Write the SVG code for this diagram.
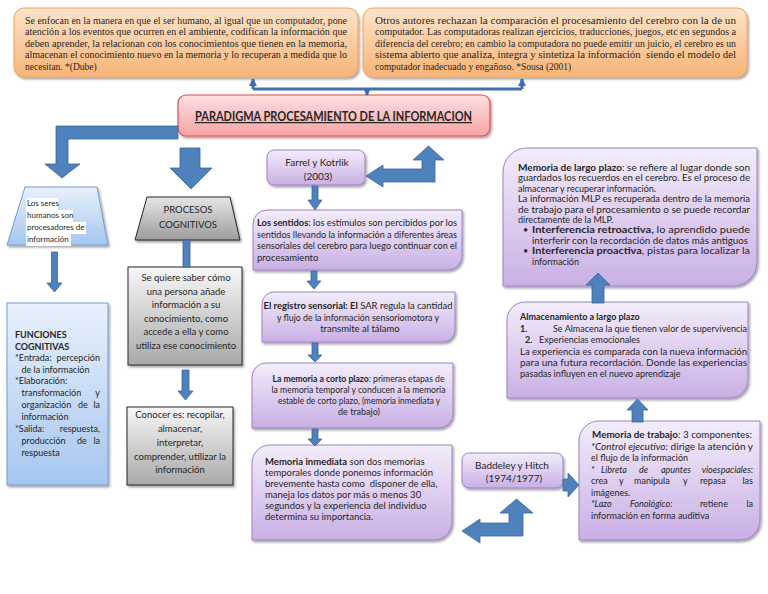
<svg xmlns="http://www.w3.org/2000/svg" width="768" height="594" viewBox="0 0 768 594">
<defs>
<linearGradient id="gOr" x1="0" y1="0" x2="0" y2="1"><stop offset="0" stop-color="#fde4ca"/><stop offset="1" stop-color="#f8b477"/></linearGradient>
<linearGradient id="gPk" x1="0" y1="0" x2="0" y2="1"><stop offset="0" stop-color="#fde0e0"/><stop offset="1" stop-color="#f7a3a3"/></linearGradient>
<linearGradient id="gPu" x1="0" y1="0" x2="0" y2="1"><stop offset="0" stop-color="#f3edfa"/><stop offset="1" stop-color="#c9b0e5"/></linearGradient>
<linearGradient id="gBl" x1="0" y1="0" x2="0" y2="1"><stop offset="0" stop-color="#e8f1fc"/><stop offset="1" stop-color="#a6c6ef"/></linearGradient>
<linearGradient id="gGr" x1="0" y1="0" x2="0" y2="1"><stop offset="0" stop-color="#f7f7f7"/><stop offset="1" stop-color="#a9a9a9"/></linearGradient>
<linearGradient id="gGr2" x1="0" y1="0" x2="0" y2="1"><stop offset="0" stop-color="#e6e6e6"/><stop offset="1" stop-color="#9c9c9c"/></linearGradient>
<filter id="sh" x="-10%" y="-10%" width="130%" height="140%"><feDropShadow dx="1.5" dy="2" stdDeviation="1.2" flood-color="#000" flood-opacity="0.35"/></filter>
<marker id="ah" viewBox="0 0 8 8" refX="7" refY="4" markerWidth="8" markerHeight="8" markerUnits="userSpaceOnUse" orient="auto"><path d="M0,0 L8,4 L0,8 Z" fill="#3f6faf"/></marker>
<style>
.s{font-family:Lato,"Open Sans","Liberation Sans",sans-serif;font-size:9px;fill:#262626}
.m{font-size:9.5px}
.t{font-family:"Liberation Serif","Times New Roman",serif;font-size:9.5px;fill:#262626}
.b{font-weight:bold}
.i{font-style:italic}
.c{text-anchor:middle}
.e{text-anchor:end}
.or{fill:url(#gOr);stroke:#f0a05c;stroke-width:1;filter:url(#sh)}
.pu{fill:url(#gPu);stroke:#9c80c2;stroke-width:1;filter:url(#sh)}
.bl{fill:url(#gBl);stroke:#6e9bd5;stroke-width:1;filter:url(#sh)}
.gr{fill:url(#gGr);stroke:#262626;stroke-width:1;filter:url(#sh)}
.ar{fill:#4f81bd;stroke:#3b6699;stroke-width:0.8}
.ln{fill:none;stroke:#3f6faf;stroke-width:3}
.hl{fill:#ffffff}
</style>
</defs>
<rect width="768" height="594" fill="#ffffff"/>

<g id="node-dube">
<rect class="or" x="14" y="8" width="344" height="69" rx="10"/>
<text class="t" x="25" y="23.5" textLength="322" lengthAdjust="spacingAndGlyphs">Se enfocan en la manera en que el ser humano, al igual que un computador, pone</text>
<text class="t" x="25" y="35" textLength="322" lengthAdjust="spacingAndGlyphs">atención a los eventos que ocurren en el ambiente, codifican la información que</text>
<text class="t" x="25" y="46.5" textLength="322" lengthAdjust="spacingAndGlyphs">deben aprender, la relacionan con los conocimientos que tienen en la memoria,</text>
<text class="t" x="25" y="58" textLength="322" lengthAdjust="spacingAndGlyphs">almacenan el conocimiento nuevo en la memoria y lo recuperan a medida que lo</text>
<text class="t" x="25" y="69.5">necesitan. *(Dube)</text>
</g>

<g id="node-sousa">
<rect class="or" x="363" y="8" width="384" height="69" rx="10"/>
<text class="t" x="375" y="23.5" textLength="361" lengthAdjust="spacingAndGlyphs">Otros autores rechazan la comparación el procesamiento del cerebro con la de un</text>
<text class="t" x="375" y="35" textLength="361" lengthAdjust="spacingAndGlyphs">computador. Las computadoras realizan ejercicios, traducciones, juegos, etc en segundos a</text>
<text class="t" x="375" y="46.5" textLength="361" lengthAdjust="spacingAndGlyphs">diferencia del cerebro; en cambio la computadora no puede emitir un juicio, el cerebro es un</text>
<text class="t" x="375" y="58" textLength="361" lengthAdjust="spacingAndGlyphs" xml:space="preserve">sistema abierto que analiza, integra y sintetiza la información  siendo el modelo del</text>
<text class="t" x="375" y="69.5">computador inadecuado y engañoso. *Sousa (2001)</text>
</g>

<g id="node-title">
<rect x="178" y="95" width="312" height="41" rx="8" fill="url(#gPk)" stroke="#e04c4c" stroke-width="1.2" filter="url(#sh)"/>
<text class="s b c" x="333.5" y="121" style="font-size:12.5px;text-decoration:underline" textLength="277" lengthAdjust="spacingAndGlyphs">PARADIGMA PROCESAMIENTO DE LA INFORMACION</text>
</g>

<g id="node-seres">
<polygon class="bl" points="25,187 97,187 108,245 7,245"/>
<rect class="hl" x="26" y="198" width="32" height="12"/>
<rect class="hl" x="26" y="210" width="47" height="12"/>
<rect class="hl" x="26" y="222" width="60" height="12"/>
<rect class="hl" x="26" y="234" width="45" height="12"/>
<text class="s" x="27" y="206" style="font-size:8px">Los seres</text>
<text class="s" x="27" y="218" style="font-size:8px">humanos son</text>
<text class="s" x="27" y="230" style="font-size:8px">procesadores de</text>
<text class="s" x="27" y="242" style="font-size:8px">información</text>
</g>

<g id="node-funciones">
<rect class="bl" x="7" y="303" width="101" height="182"/>
<text class="s b" x="15" y="338">FUNCIONES</text>
<text class="s b" x="15" y="349.5">COGNITIVAS</text>
<text class="s" x="15" y="361">*Entrada:</text>
<text class="s e" x="100" y="361">percepción</text>
<text class="s" x="21.5" y="372.5">de la información</text>
<text class="s" x="15" y="384">*Elaboración:</text>
<text class="s" x="21.5" y="396">transformación</text>
<text class="s e" x="100" y="396">y</text>
<text class="s" x="21.5" y="408">organización</text>
<text class="s" x="78" y="408">de</text>
<text class="s e" x="100" y="408">la</text>
<text class="s" x="21.5" y="420">información</text>
<text class="s" x="15" y="432">*Salida:</text>
<text class="s e" x="100" y="432">respuesta,</text>
<text class="s" x="21.5" y="444">producción</text>
<text class="s" x="77" y="444">de</text>
<text class="s e" x="100" y="444">la</text>
<text class="s" x="21.5" y="456">respuesta</text>
</g>

<g id="node-procesos">
<polygon points="147,197 230,197 240,240 135,240" fill="url(#gGr2)" stroke="#262626" stroke-width="1" filter="url(#sh)"/>
<text class="s c" x="188" y="213" style="font-size:9.5px">PROCESOS</text>
<text class="s c" x="188" y="228" style="font-size:9.5px">COGNITIVOS</text>
</g>

<g id="node-sequiere">
<rect class="gr" x="128" y="267" width="114" height="98"/>
<text class="s c" x="186" y="281" style="font-size:9.5px">Se quiere saber cómo</text>
<text class="s c" x="186" y="294.5" style="font-size:9.5px">una persona añade</text>
<text class="s c" x="186" y="308" style="font-size:9.5px">información a su</text>
<text class="s c" x="186" y="321.5" style="font-size:9.5px">conocimiento, como</text>
<text class="s c" x="186" y="335" style="font-size:9.5px">accede a ella y como</text>
<text class="s c" x="186" y="348.5" style="font-size:9.5px">utiliza ese conocimiento</text>
</g>

<g id="node-conocer">
<rect class="gr" x="127" y="407" width="106" height="78"/>
<text class="s c" x="180" y="418" style="font-size:9.5px">Conocer es: recopilar,</text>
<text class="s c" x="180" y="432" style="font-size:9.5px">almacenar,</text>
<text class="s c" x="180" y="446" style="font-size:9.5px">interpretar,</text>
<text class="s c" x="180" y="459.5" style="font-size:9.5px">comprender, utilizar la</text>
<text class="s c" x="180" y="472.5" style="font-size:9.5px">información</text>
</g>

<g id="node-farrel">
<rect class="pu" x="267" y="150" width="98" height="35" rx="7"/>
<text class="s c" x="317" y="166" style="font-size:10px">Farrel y Kotrlik</text>
<text class="s c" x="318" y="180" style="font-size:10px">(2003)</text>
</g>

<g id="node-sentidos">
<path class="pu" d="M267,210 H462 V256 A14,14 0 0 1 448,270 H253 V224 A14,14 0 0 1 267,210 Z"/>
<text class="s m" x="257" y="226" textLength="200" lengthAdjust="spacingAndGlyphs"><tspan class="b">Los sentidos</tspan>: los estímulos son percibidos por los</text>
<text class="s m" x="257" y="237.5" textLength="200" lengthAdjust="spacingAndGlyphs">sentidos llevando la información a diferentes áreas</text>
<text class="s m" x="257" y="249" textLength="200" lengthAdjust="spacingAndGlyphs">sensoriales del cerebro para luego continuar con el</text>
<text class="s m" x="257" y="260.5">procesamiento</text>
</g>

<g id="node-registro">
<path class="pu" d="M274,292 H455 V330 A12,12 0 0 1 443,342 H262 V304 A12,12 0 0 1 274,292 Z"/>
<text class="s m c" x="358" y="309" textLength="189" lengthAdjust="spacingAndGlyphs"><tspan class="b">El registro sensorial: El</tspan> SAR regula la cantidad</text>
<text class="s m c" x="358" y="320.5" textLength="162" lengthAdjust="spacingAndGlyphs">y flujo de la información sensoriomotora y</text>
<text class="s m c" x="360" y="332">transmite al tálamo</text>
</g>

<g id="node-corto">
<path class="pu" d="M266,363 H453 V414 A14,14 0 0 1 439,428 H252 V377 A14,14 0 0 1 266,363 Z"/>
<text class="s c" x="358.5" y="382" textLength="172" lengthAdjust="spacingAndGlyphs"><tspan class="b">La memoria a corto plazo</tspan>: primeras etapas de</text>
<text class="s c" x="358.5" y="393" textLength="174" lengthAdjust="spacingAndGlyphs">la memoria temporal y conducen a la memoria</text>
<text class="s c" x="359" y="404" textLength="162" lengthAdjust="spacingAndGlyphs">estable de corto plazo, (memoria inmediata y</text>
<text class="s c" x="359" y="415">de trabajo)</text>
</g>

<g id="node-inmediata">
<path class="pu" d="M270,445 H452 V522 A18,18 0 0 1 434,540 H252 V463 A18,18 0 0 1 270,445 Z"/>
<text class="s m" x="265" y="465"><tspan class="b">Memoria inmediata</tspan> son dos memorias</text>
<text class="s m" x="265" y="476">temporales donde ponemos información</text>
<text class="s m" x="265" y="487" xml:space="preserve">brevemente hasta como  disponer de ella,</text>
<text class="s m" x="265" y="498">maneja los datos por más o menos 30</text>
<text class="s m" x="265" y="509">segundos y la experiencia del individuo</text>
<text class="s m" x="265" y="520">determina su importancia.</text>
</g>

<g id="node-baddeley">
<rect class="pu" x="462" y="453" width="101" height="35" rx="7"/>
<text class="s c" x="512" y="469" style="font-size:10px">Baddeley y Hitch</text>
<text class="s c" x="514" y="482" style="font-size:10px">(1974/1977)</text>
</g>

<g id="node-mlp">
<path class="pu" d="M527,148 H757 V262 A24,24 0 0 1 733,286 H503 V172 A24,24 0 0 1 527,148 Z"/>
<text class="s" x="518" y="171" textLength="232" lengthAdjust="spacingAndGlyphs"><tspan class="b">Memoria de largo plazo</tspan>: se refiere al lugar donde son</text>
<text class="s" x="518" y="181.4" textLength="232" lengthAdjust="spacingAndGlyphs">guardados los recuerdos en el cerebro. Es el proceso de</text>
<text class="s" x="518" y="191.8">almacenar y recuperar información<tspan class="b">.</tspan></text>
<text class="s" x="518" y="202.2" textLength="232" lengthAdjust="spacingAndGlyphs">La información MLP es recuperada dentro de la memoria</text>
<text class="s" x="518" y="212.6" textLength="232" lengthAdjust="spacingAndGlyphs">de trabajo para el procesamiento o se puede recordar</text>
<text class="s" x="518" y="223">directamente de la MLP.</text>
<text class="s" x="523" y="233.4">•</text>
<text class="s" x="532" y="233.4" textLength="218" lengthAdjust="spacingAndGlyphs"><tspan class="b">Interferencia retroactiva,</tspan> lo aprendido puede</text>
<text class="s" x="532" y="243.8" textLength="216" lengthAdjust="spacingAndGlyphs">interferir con la recordación de datos más antiguos</text>
<text class="s" x="523" y="254.2">•</text>
<text class="s" x="532" y="254.2" textLength="218" lengthAdjust="spacingAndGlyphs"><tspan class="b">Interferencia proactiva</tspan>, pistas para localizar la</text>
<text class="s" x="532" y="264.6">información</text>
</g>

<g id="node-almacenamiento">
<path class="pu" d="M525,302 H748 V380 A18,18 0 0 1 730,398 H507 V320 A18,18 0 0 1 525,302 Z"/>
<text class="s b" x="520" y="320">Almacenamiento a largo plazo</text>
<text class="s b" x="520" y="332">1.</text>
<text class="s" x="553" y="332" textLength="194" lengthAdjust="spacingAndGlyphs">Se Almacena la que tienen valor de supervivencia</text>
<text class="s b" x="525" y="343">2.</text>
<text class="s" x="539" y="343">Experiencias emocionales</text>
<text class="s" x="520" y="354.5" textLength="227" lengthAdjust="spacingAndGlyphs">La experiencia es comparada con la nueva información</text>
<text class="s" x="520" y="366" textLength="227" lengthAdjust="spacingAndGlyphs">para una futura recordación. Donde las experiencias</text>
<text class="s" x="520" y="377">pasadas influyen en el nuevo aprendizaje</text>
</g>

<g id="node-trabajo">
<path class="pu" d="M599,421 H760 V520 A20,20 0 0 1 740,540 H579 V441 A20,20 0 0 1 599,421 Z"/>
<text class="s" x="592" y="438" textLength="160" lengthAdjust="spacingAndGlyphs"><tspan class="b">Memoria de trabajo</tspan>: 3 componentes:</text>
<text class="s" x="591" y="449.5" textLength="162" lengthAdjust="spacingAndGlyphs"><tspan class="i">*Control ejecutivo:</tspan> dirige la atención y</text>
<text class="s" x="591" y="461">el flujo de la información</text>
<text class="s i" x="591" y="472.5">*</text>
<text class="s i" x="601" y="472.5">Libreta</text>
<text class="s i" x="639" y="472.5">de</text>
<text class="s i" x="661" y="472.5">apuntes</text>
<text class="s e" x="753" y="472.5"><tspan class="i">vioespaciales</tspan>:</text>
<text class="s" x="591" y="484">crea</text>
<text class="s" x="619" y="484">y</text>
<text class="s" x="634" y="484">manipula</text>
<text class="s" x="683" y="484">y</text>
<text class="s" x="700" y="484">repasa</text>
<text class="s e" x="753" y="484">las</text>
<text class="s" x="591" y="495.5">imágenes.</text>
<text class="s i" x="591" y="507">*Lazo</text>
<text class="s i" x="630" y="507">Fonológico:</text>
<text class="s" x="700" y="507">retiene</text>
<text class="s e" x="753" y="507">la</text>
<text class="s" x="591" y="518.5">información en forma auditiva</text>
</g>

<g id="connectors">
<path class="ln" d="M253,89 H522"/>
<path class="ln" d="M253,89 V79" marker-end="url(#ah)"/>
<path class="ln" d="M522,89 V79" marker-end="url(#ah)"/>
<path class="ln" d="M367,89 V95" marker-end="url(#ah)"/>
<path class="ar" d="M178,126 H56 V164 H45 L62,178 L80,164 H68 V139 H178 Z"/>
<path class="ar" d="M180,148 H200 V168 H212 L191,189 L170,168 H180 Z"/>
<path class="ar" d="M366,176 L383,165 V169 H422 V160 H413 L428.5,146 L444,160 H435 V182 H383 V187 Z"/>
<path class="ar" d="M462,531 L480,519 V523 H509 V513 H500 L516.5,499 L533,513 H523 V536 H480 V543 Z"/>
<path class="ar" d="M563,479 H568 V473 L579,485 L568,497 V491 H563 Z"/>
<path class="ar" d="M632,422 V410 H627 L637.5,399 L648,410 H643 V422 Z"/>
<path class="ar" d="M592,303 V285 H586 L598,273 L610,285 H604 V303 Z"/>
<path class="ar" d="M51.5,252 H57.5 V283 H62 L54.5,292 L47,283 H51.5 Z"/>
<path class="ar" d="M183,240 H190 V267 H183 Z"/>
<path class="ar" d="M182,370 H189 V391 H193 L185.5,400 L178,391 H182 Z"/>
<path class="ar" d="M312,186 H318 V200 H322 L315,210 L308,200 H312 Z"/>
<path class="ar" d="M311,271 H317 V281 H321 L314,289 L307,281 H311 Z"/>
<path class="ar" d="M312,343 H318 V355 H322 L315,362 L308,355 H312 Z"/>
<path class="ar" d="M312,429 H318 V439 H322 L315,446 L308,439 H312 Z"/>
</g>
</svg>
